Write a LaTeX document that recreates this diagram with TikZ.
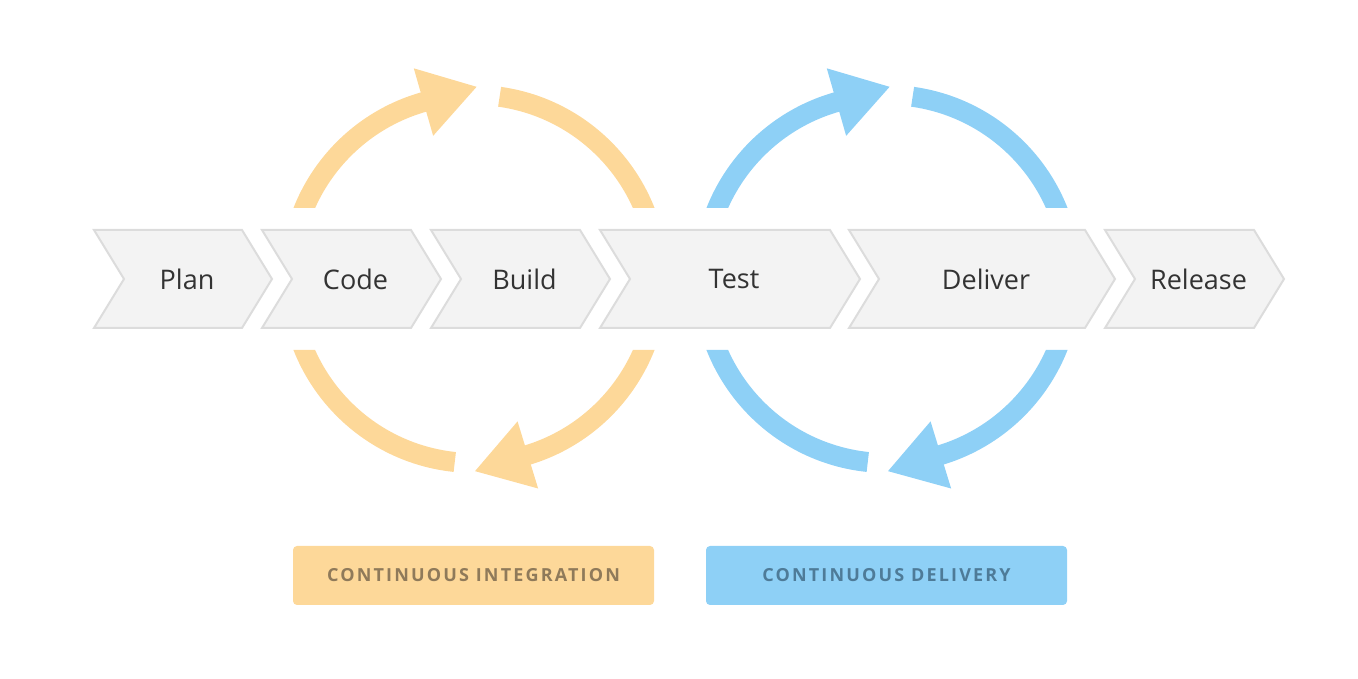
\documentclass[tikz,border=0pt]{standalone}
\usepackage{fontspec}
\setmainfont{Open Sans}
\usetikzlibrary{arrows.meta,positioning,calc}
\definecolor{ciorange}{HTML}{FDD899}
\definecolor{cdblue}{HTML}{8ED0F6}
\definecolor{chevfill}{HTML}{F3F3F3}
\definecolor{chevline}{HTML}{DCDCDC}
\definecolor{citext}{HTML}{8F7A5A}
\definecolor{cdtext}{HTML}{4E7B98}
\tikzset{
    x=0.5pt,y=0.5pt,
    chev/.style={fill=chevfill, draw=chevline, line width=1pt},
    stage/.style={font=\fontsize{13.5}{16}\selectfont, text=black!80},
    ring/.style={line width=10pt},
    ringarrow/.style={ring, -{Triangle[length=28pt,width=33pt]}},
    badge/.style={rounded corners=2pt, minimum width=180.5pt, minimum height=29.5pt,
        font=\fontsize{9}{11}\selectfont\bfseries\addfontfeature{LetterSpace=12}}
}
% chevron: name, left x, tip x, label
\newcommand{\chevron}[4]{
    \draw[chev] (#2,449) -- (#3-30,449) -- (#3,400) -- (#3-30,351) -- (#2,351) -- (#2+30,400) -- cycle;
    \node[stage] (#1) at ({(#2+#3)/2+4},400) {#4};
}
% loop: centre, colour
\newcommand{\loopring}[2]{
    \draw[ringarrow, #2] ($(#1)+(178:184)$) arc[start angle=178, end angle=106, radius=184] -- ++(54,15.5);
    \draw[ring, #2] ($(#1)+(82:184)$) arc[start angle=82, end angle=2, radius=184];
    \draw[ringarrow, #2] ($(#1)+(-2:184)$) arc[start angle=-2, end angle=-73, radius=184] -- ++(-53.5,-16.4);
    \draw[ring, #2] ($(#1)+(182:184)$) arc[start angle=182, end angle=264, radius=184];
}
\begin{document}
\begin{tikzpicture}
    \useasboundingbox (0,0) rectangle (1358,679);

    %% Steps
    \chevron{plan}{94}{272}{Plan}
    \chevron{code}{262}{441}{Code}
    \chevron{build}{431}{610}{Build}
    \chevron{test}{600}{860}{Test}
    \chevron{deliver}{849}{1115}{Deliver}
    \chevron{release}{1105}{1284}{Release}

    %% Loop centres
    \coordinate (ci) at (474,400);
    \coordinate (cd) at (887,400);

    % Loops, cut flat above and below the steps
    \begin{scope}
        \clip (0,471) rectangle (1358,679) (0,0) rectangle (1358,329);
        \loopring{ci}{ciorange}
        \loopring{cd}{cdblue}
    \end{scope}

    %% Labels
    \node[badge, fill=ciorange, text=citext] (integration) at (473.5,103.5) {CONTINUOUS INTEGRATION};
    \node[badge, fill=cdblue, text=cdtext] (delivery) at (886.5,103.5) {CONTINUOUS DELIVERY};
\end{tikzpicture}
\end{document}
